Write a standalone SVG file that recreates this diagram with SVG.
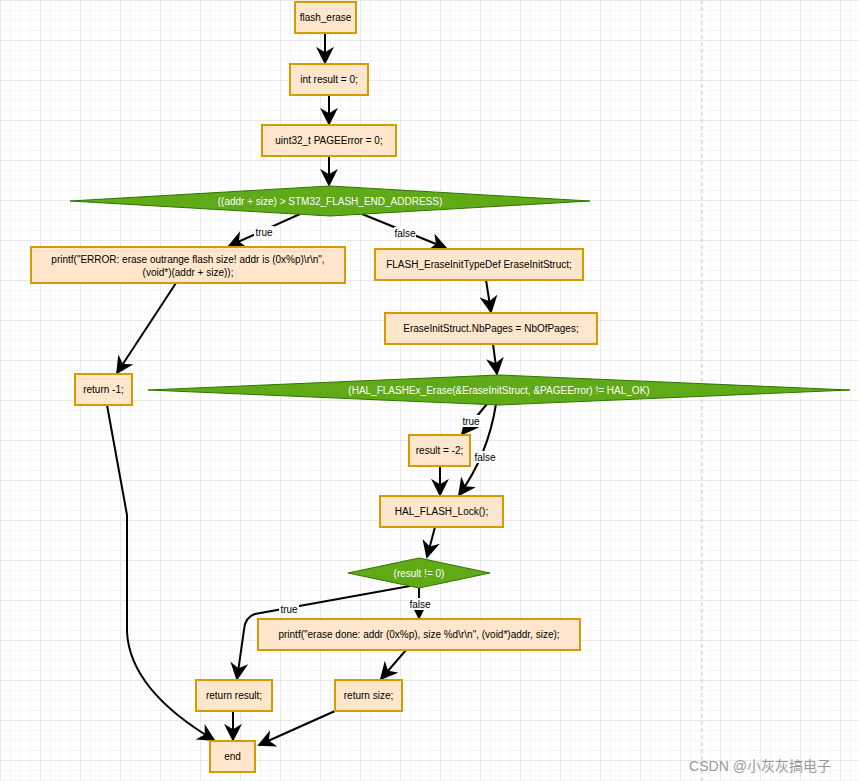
<svg xmlns="http://www.w3.org/2000/svg" width="859" height="781" viewBox="0 0 859 781">
<defs>
<pattern id="g" width="10" height="10" patternUnits="userSpaceOnUse"><path d="M10 0H0V10" fill="none" stroke="#ececec" stroke-width="1"/></pattern>
<pattern id="G" width="40" height="40" patternUnits="userSpaceOnUse"><rect width="40" height="40" fill="url(#g)"/><path d="M40 0H0V40" fill="none" stroke="#dcdcdc" stroke-width="1"/></pattern>
<marker id="a" viewBox="0 0 10 10" refX="9" refY="5" markerWidth="9" markerHeight="9" orient="auto"><path d="M0,0 L10,5 L0,10 L3,5 Z" fill="#000"/></marker>
</defs>
<style>
.b{fill:#ffe6cc;stroke:#d79b00;stroke-width:2}
.d{fill:#60a917;stroke:#2d7600;stroke-width:1}
text{font-family:"Liberation Sans",Arial,sans-serif;font-size:10px;text-anchor:middle;dominant-baseline:central;fill:#000}
.w{fill:#fff}
.c path{fill:none;stroke:#000;stroke-width:2;marker-end:url(#a)}
.l{fill:#fff}
</style>
<rect width="859" height="781" fill="#fff"/>
<rect width="859" height="781" fill="url(#G)"/>
<line x1="702" y1="0" x2="702" y2="781" stroke="#c8c8c8" stroke-dasharray="4 3"/>
<g class="c" id="connectors">
<path d="M325,33 V63"/>
<path d="M329,95 V124"/>
<path d="M329,156 V185"/>
<path d="M300,214 L229,246"/>
<path d="M362,214 L446,248"/>
<path d="M176,283 L117,373"/>
<path d="M486,280 L491,312"/>
<path d="M493,344 L497,374"/>
<path d="M487,404 L462,434"/>
<path d="M496,404 Q488,455 459,495"/>
<path d="M440,466 V495"/>
<path d="M435,527 L427,557"/>
<path d="M410,586 L255,614 Q245,617 244,630 L237,679"/>
<path d="M419,588 V618"/>
<path d="M406,650 L381,679"/>
<path d="M107,405 L127,515 V632 Q130,690 214,740"/>
<path d="M233,711 V740"/>
<path d="M335,711 L259,745"/>
</g>
<g id="labels">
<rect class="l" x="254" y="226" width="20" height="12"/><text x="264" y="232">true</text>
<rect class="l" x="394" y="227" width="22" height="12"/><text x="405" y="233">false</text>
<rect class="l" x="461" y="415" width="20" height="12"/><text x="471" y="421">true</text>
<rect class="l" x="474" y="451" width="22" height="12"/><text x="485" y="457">false</text>
<rect class="l" x="279" y="603" width="20" height="12"/><text x="289" y="609">true</text>
<rect class="l" x="409" y="598" width="22" height="12"/><text x="420" y="604">false</text>
</g>
<g id="n1"><rect class="b" x="295" y="2" width="61" height="31"/><text x="325.5" y="17.5">flash_erase</text></g>
<g id="n2"><rect class="b" x="290" y="64" width="78" height="31"/><text x="329" y="79.5">int result = 0;</text></g>
<g id="n3"><rect class="b" x="262" y="125" width="134" height="31"/><text x="329" y="140.5">uint32_t PAGEError = 0;</text></g>
<g id="d1"><polygon class="d" points="70,201 330,186 590,201 330,216"/><text class="w" x="330" y="201">((addr + size) &gt; STM32_FLASH_END_ADDRESS)</text></g>
<g id="n4"><rect class="b" x="31" y="247" width="314" height="36"/><text x="188" y="259">printf("ERROR: erase outrange flash size! addr is (0x%p)\r\n",</text><text x="188" y="272">(void*)(addr + size));</text></g>
<g id="n5"><rect class="b" x="375" y="249" width="208" height="31"/><text x="479" y="264.5">FLASH_EraseInitTypeDef EraseInitStruct;</text></g>
<g id="n6"><rect class="b" x="385" y="313" width="212" height="31"/><text x="491" y="328.5">EraseInitStruct.NbPages = NbOfPages;</text></g>
<g id="d2"><polygon class="d" points="148,390 499,375 850,390 499,405"/><text class="w" x="499" y="390">(HAL_FLASHEx_Erase(&amp;EraseInitStruct, &amp;PAGEError) != HAL_OK)</text></g>
<g id="n7"><rect class="b" x="75" y="374" width="57" height="31"/><text x="103.5" y="389.5">return -1;</text></g>
<g id="n8"><rect class="b" x="409" y="435" width="61" height="31"/><text x="439.5" y="450.5">result = -2;</text></g>
<g id="n9"><rect class="b" x="380" y="496" width="123" height="31"/><text x="441.5" y="511.5">HAL_FLASH_Lock();</text></g>
<g id="d3"><polygon class="d" points="348,573 419,558 490,573 419,588"/><text class="w" x="419" y="573">(result != 0)</text></g>
<g id="n10"><rect class="b" x="258" y="619" width="322" height="31"/><text x="419" y="634.5">printf("erase done: addr (0x%p), size %d\r\n", (void*)addr, size);</text></g>
<g id="n11"><rect class="b" x="196" y="680" width="76" height="31"/><text x="234" y="695.5">return result;</text></g>
<g id="n12"><rect class="b" x="335" y="680" width="67" height="31"/><text x="368.5" y="695.5">return size;</text></g>
<g id="n13"><rect class="b" x="210" y="741" width="45" height="31"/><text x="232.5" y="756.5">end</text></g>
<text x="760" y="766" style="font-size:14px;fill:#999;font-family:'Liberation Sans','Noto Sans CJK SC',sans-serif">CSDN @小灰灰搞电子</text>
</svg>
